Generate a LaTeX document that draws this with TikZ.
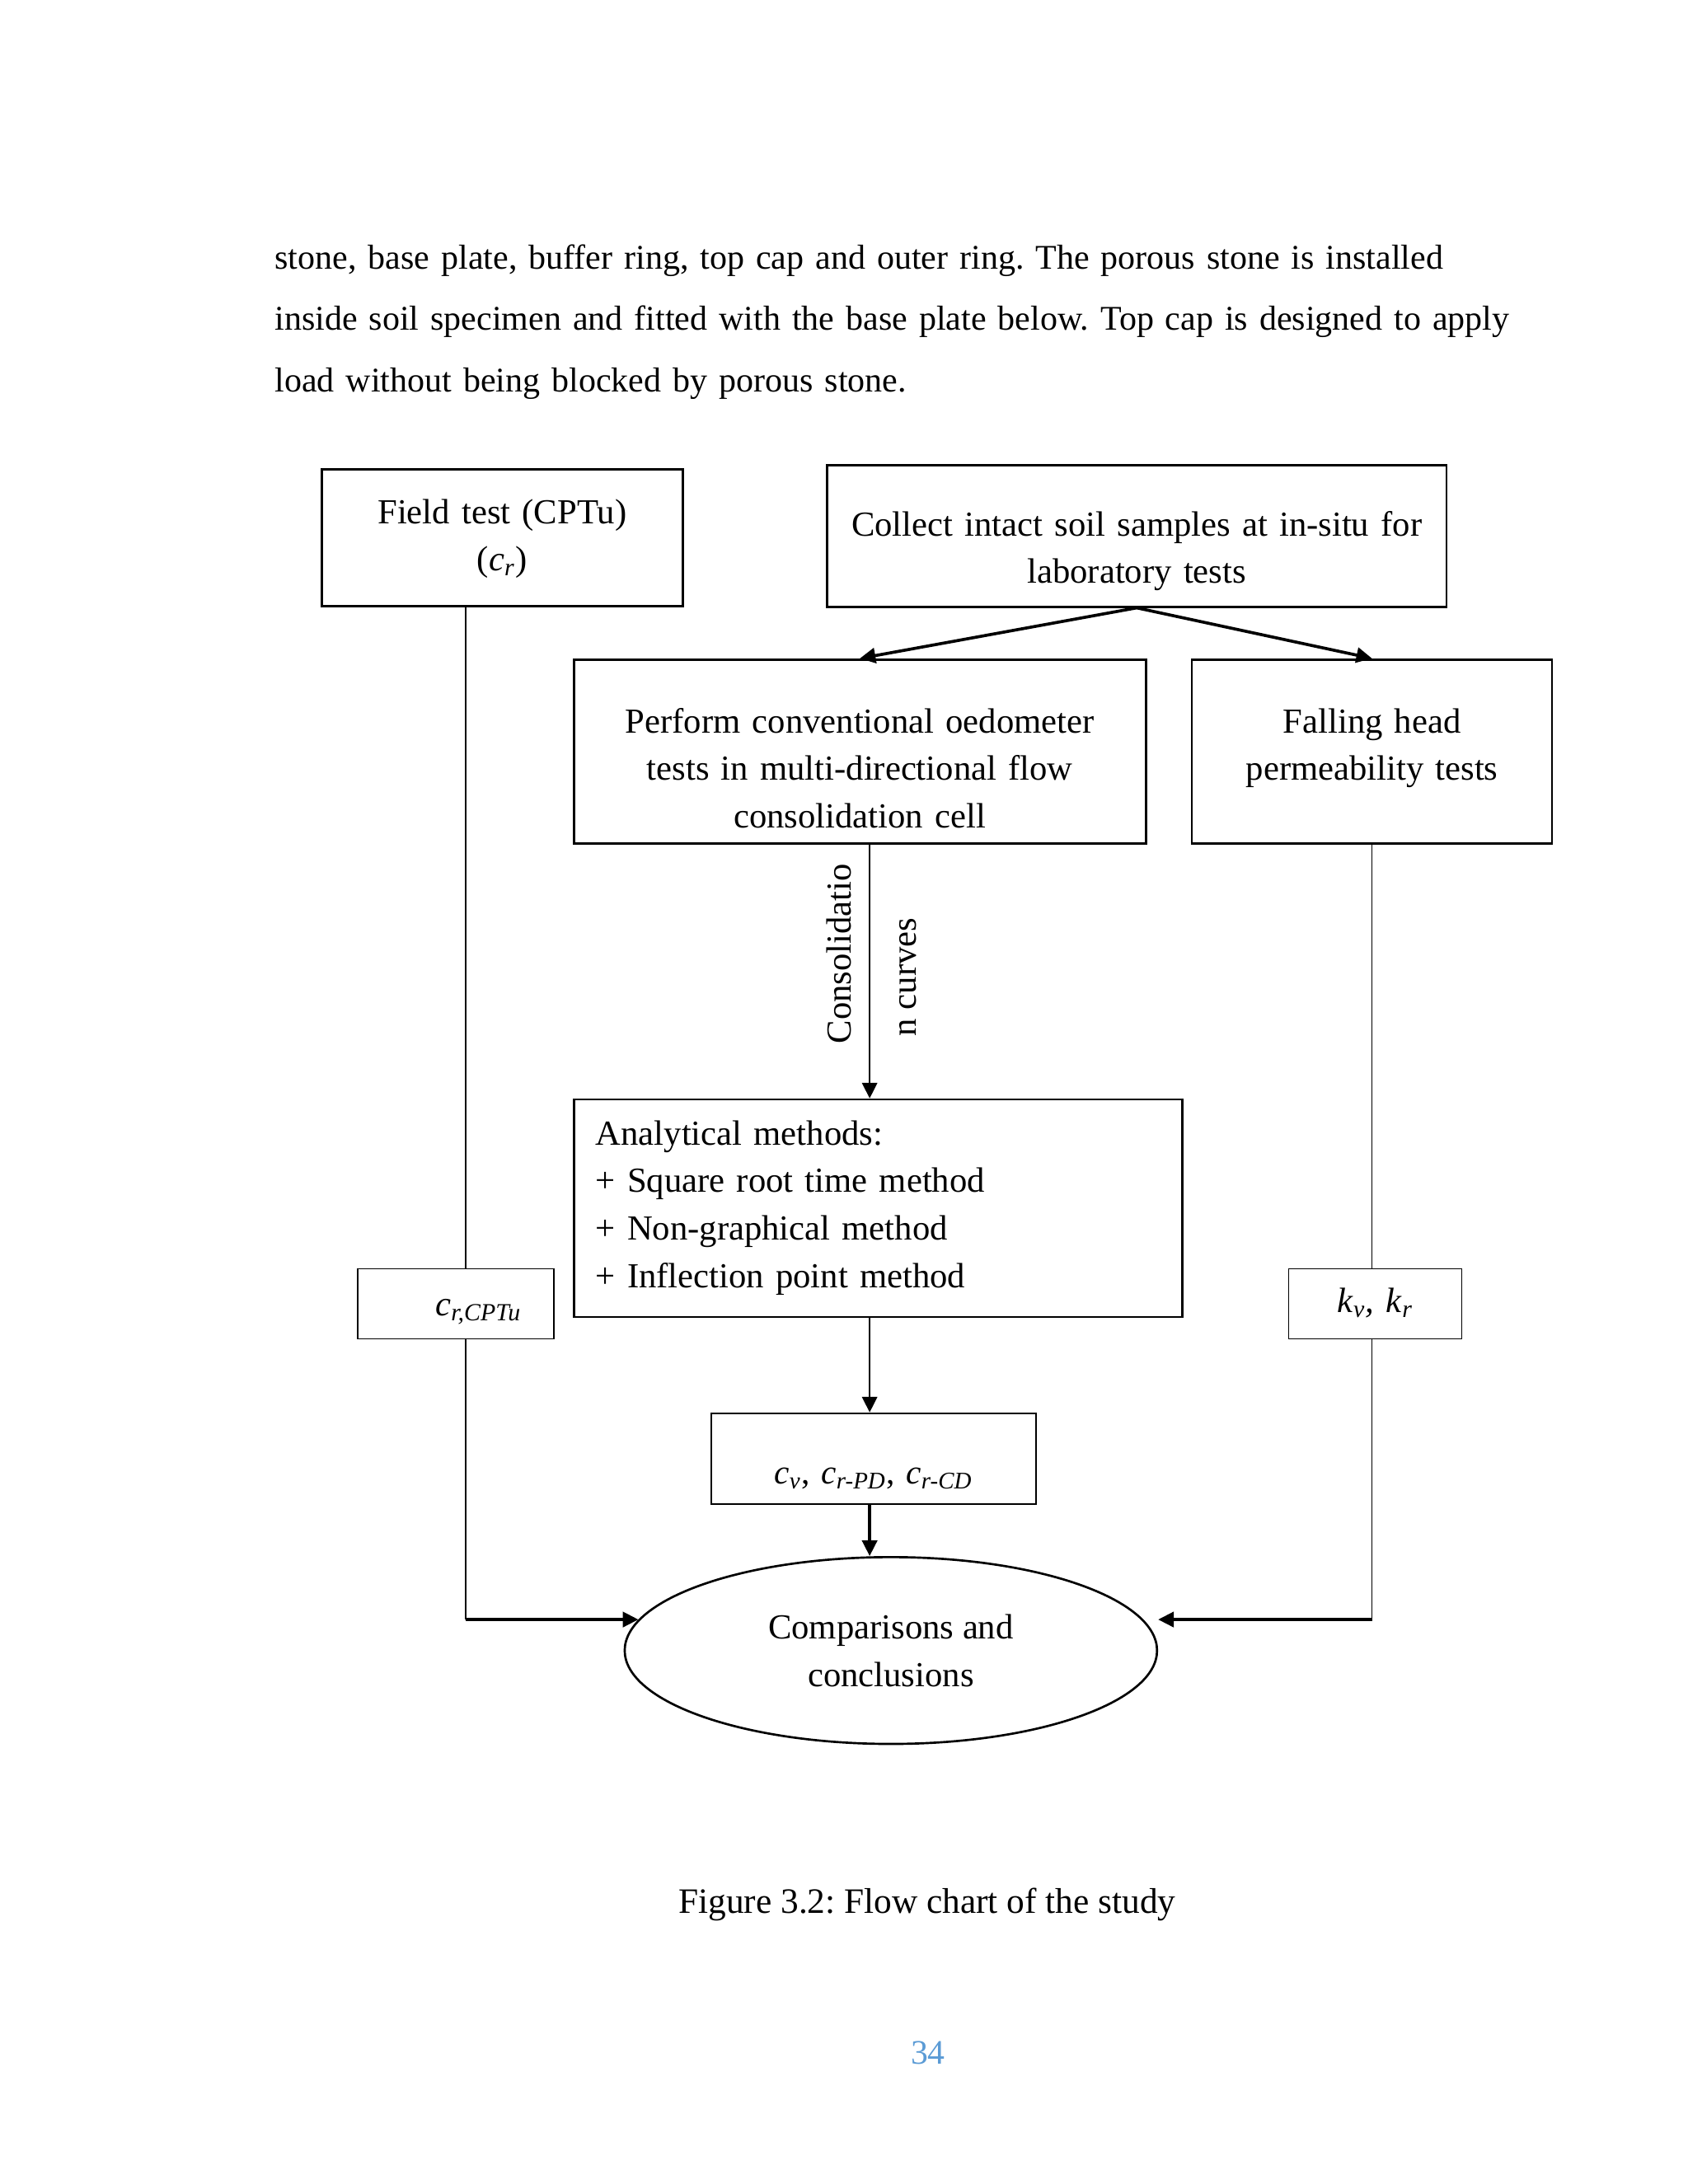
\documentclass[tikz,border=0pt]{standalone}
\usepackage{fontspec}
\setmainfont{Liberation Serif}
\usepackage{tikz}
\usetikzlibrary{arrows.meta}
\usetikzlibrary{shapes.geometric}

\definecolor{numblue}{HTML}{5B9BD5}
\newcommand{\coef}[2]{\textit{#1}\textsubscript{\textit{#2}}}
\frenchspacing

\begin{document}
\begin{tikzpicture}[>={Triangle[length=5.7pt,width=5.5pt]},
        box/.style={draw, line width=0.8pt, inner sep=0pt, anchor=north west, align=center,
            font=\fontsize{12.8}{17.3}\selectfont},
        tag/.style={draw, line width=0.5pt, inner sep=0pt, anchor=north west, align=center,
            font=\fontsize{12.8}{17.3}\selectfont},
        wire/.style={line width=0.5pt},
        flow/.style={->, line width=1.1pt}]
        \useasboundingbox (0,0) rectangle (21.59,-27.94);

        % Text above the chart
        \node[anchor=base west, inner sep=0pt, text width=17cm, align=left,
            font=\fontsize{12.6}{22.4}\selectfont] (para) at (3.51,-3.44)
            {stone, base plate, buffer ring, top cap and outer ring. The porous stone is installed\\
            inside soil specimen and fitted with the base plate below. Top cap is designed to apply\\
            load without being blocked by porous stone.};

        % Field test and sampling
        \node[box, text width=4.617cm, text height=0.696cm, text depth=1.054cm] (field) at (4.101,-5.988)
            {Field test (CPTu)\\(\coef{c}{r})};
        \node[box, text width=7.928cm, text height=0.907cm, text depth=0.906cm] (collect) at (10.563,-5.935)
            {Collect intact soil samples at in-situ for\\laboratory tests};

        % Laboratory tests
        \node[box, text width=7.316cm, text height=0.938cm, text depth=1.413cm] (perform) at (7.327,-8.423)
            {Perform conventional oedometer\\tests in multi-directional flow\\consolidation cell};
        \node[box, text width=4.607cm, text height=0.938cm, text depth=1.413cm] (falling) at (15.233,-8.423)
            {Falling head\\permeability tests};
        \draw[flow] (collect.south) -- (perform.north);
        \draw[flow] (collect.south) -- (falling.north);

        % Analytical methods
        \node[box, align=left, inner xsep=0.28cm, text width=7.22cm, text height=0.58cm, text depth=2.203cm]
            (analytic) at (7.327,-14.052)
            {Analytical methods:\\+ Square root time method\\+ Non-graphical method\\+ Inflection point method};

        % Coefficient boxes
        \node[tag, align=right, inner xsep=0.41cm, text width=1.689cm, text height=0.601cm, text depth=0.295cm]
            (crbox) at (4.565,-16.224) {\coef{c}{r,CPTu}};
        \node[tag, text width=2.214cm, text height=0.559cm, text depth=0.337cm] (kvbox) at (16.477,-16.224)
            {\coef{k}{v}\textit{, }\coef{k}{r}};
        \node[tag, line width=0.6pt, text width=4.154cm, text height=0.907cm, text depth=0.253cm,
            font=\fontsize{12.4}{17.3}\selectfont] (cv) at (9.087,-18.069)
            {\coef{c}{v}, \coef{c}{r-PD}, \coef{c}{r-CD}};

        % Comparisons
        \node[ellipse, draw, line width=0.8pt, minimum width=6.81cm, minimum height=2.39cm, inner sep=0pt,
            align=center, font=\fontsize{12.8}{17.3}\selectfont] (concl) at (11.396,-21.115)
            {Comparisons and\\conclusions};

        % Middle column
        \coordinate (mx) at ([xshift=-0.5mm]cv.north);
        \draw[->, line width=0.8pt] (perform.south -| mx) -- (mx |- analytic.north);
        \node[rotate=90, anchor=base west, inner sep=0pt, font=\fontsize{12.8}{17.3}\selectfont] (lab1)
            at (10.89,-13.357) {Consolidatio};
        \node[rotate=90, anchor=base west, inner sep=0pt, font=\fontsize{12.8}{17.3}\selectfont] (lab2)
            at (11.723,-13.262) {n curves};
        \draw[->, line width=0.8pt] (analytic.south -| mx) -- (mx);
        \draw[->, line width=1pt] (mx |- cv.south) -- (mx |- concl.north);

        % Left branch
        \coordinate (lx) at ([xshift=1.27mm]crbox.south);
        \coordinate (lcorner) at (lx |- concl.173.5);
        \draw[wire] (lx |- field.south) -- (lx |- crbox.north);
        \draw[wire] (lx) -- (lcorner);
        \draw[flow] (lcorner) -- (concl.173.5);

        % Right branch
        \coordinate (rcorner) at (falling.south |- concl.7.5);
        \draw[wire] (falling.south) -- (falling.south |- kvbox.north);
        \draw[wire] (falling.south |- kvbox.south) -- (rcorner);
        \draw[flow] (rcorner) -- (concl.east |- rcorner);

        % Caption and page number
        \node[anchor=base, inner sep=0pt, font=\fontsize{13}{16}\selectfont] (caption) at (11.86,-24.478)
            {Figure 3.2: Flow chart of the study};
        \node[anchor=base, inner sep=0pt, text=numblue, font=\fontsize{12.5}{15}\selectfont] (pagenum)
            at (11.87,-26.408) {34};
\end{tikzpicture}
\end{document}
